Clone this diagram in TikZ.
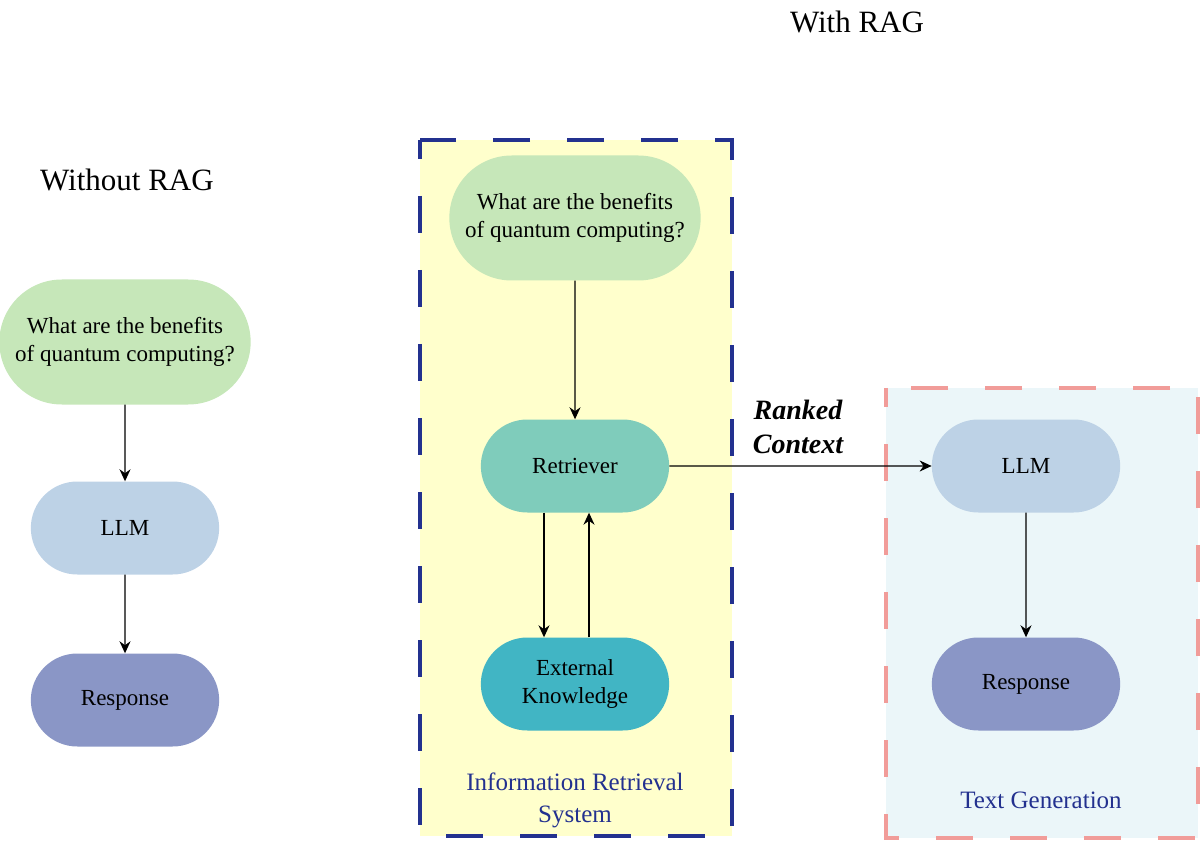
\documentclass[tikz,border=0pt]{standalone}
\usepackage{fontspec}
\setmainfont{LiberationSerif}[Extension=.ttf, UprightFont=*-Regular, BoldFont=*-Bold,
  ItalicFont=*-Italic, BoldItalicFont=*-BoldItalic]
\usetikzlibrary{arrows.meta, shapes.misc}
\definecolor{qgreen}{HTML}{C6E7B9}
\definecolor{llmblue}{HTML}{BDD2E6}
\definecolor{resp}{HTML}{8A96C6}
\definecolor{retr}{HTML}{7FCCBB}
\definecolor{ext}{HTML}{41B5C4}
\definecolor{irfill}{HTML}{FFFFCC}
\definecolor{irline}{HTML}{23318F}
\definecolor{tgfill}{HTML}{EBF6F9}
\definecolor{tgline}{HTML}{F19C99}
\tikzset{
  pill/.style={rounded rectangle, minimum width=195pt, minimum height=93pt,
    align=center, font=\fontsize{23}{28}\selectfont},
  query/.style={pill, fill=qgreen, minimum width=258pt, minimum height=125pt},
  title/.style={font=\fontsize{31}{34}\selectfont},
  boxlabel/.style={text=irline, align=center, font=\fontsize{25}{32}\selectfont},
  flow/.style={line width=1.3pt, -{Stealth[length=12pt,width=11pt]}},
}
\begin{document}
\begin{tikzpicture}[x=1pt, y=-1pt]
      \useasboundingbox (0,0) rectangle (1200,842);
      % boxes behind
      \draw[fill=irfill, draw=irline, line width=4.5pt, dash pattern=on 37pt off 37pt, dash phase=18pt]
        (420,140) rectangle (732,836);
      \draw[fill=tgfill, draw=tgline, line width=4.5pt, dash pattern=on 37pt off 37pt, dash phase=18pt]
        (886,388) rectangle (1198,838);
      % titles
      \node[title] (without) at (127,180) {Without RAG};
      \node[title] (with) at (857,22) {With RAG};
      % without RAG
      \node[query] (q1) at (125,342) {What are the benefits\\of quantum computing?};
      \node[pill, fill=llmblue] (llm1) at (125,528) {LLM};
      \node[pill, fill=resp] (resp1) at (125,700) {Response};
      % with RAG
      \node[query] (q2) at (575,218) {What are the benefits\\of quantum computing?};
      \node[pill, fill=retr] (retr) at (575,466) {Retriever};
      \node[pill, fill=ext] (ext) at (575,684) {External\\Knowledge};
      \node[pill, fill=llmblue] (llm2) at (1026,466) {LLM};
      \node[pill, fill=resp] (resp2) at (1026,684) {Response};
      \node[boxlabel] (irs) at (575,800) {Information Retrieval\\System};
      \node[boxlabel] (tg) at (1041,800) {Text Generation};
      \node[align=center, font=\fontsize{28}{34}\bfseries\itshape\selectfont] (ranked) at (798,427) {Ranked\\ Context};
      \begin{scope}[flow]
        \draw (q1) to (llm1);
        \draw (llm1) to (resp1);
        \draw (q2) to (retr);
        \draw ([xshift=-31pt]retr.south) to ([xshift=-31pt]ext.north);
        \draw ([xshift=14pt]ext.north) to ([xshift=14pt]retr.south);
        \draw (retr) to (llm2);
        \draw (llm2) to (resp2);
      \end{scope}
    \end{tikzpicture}
\end{document}
